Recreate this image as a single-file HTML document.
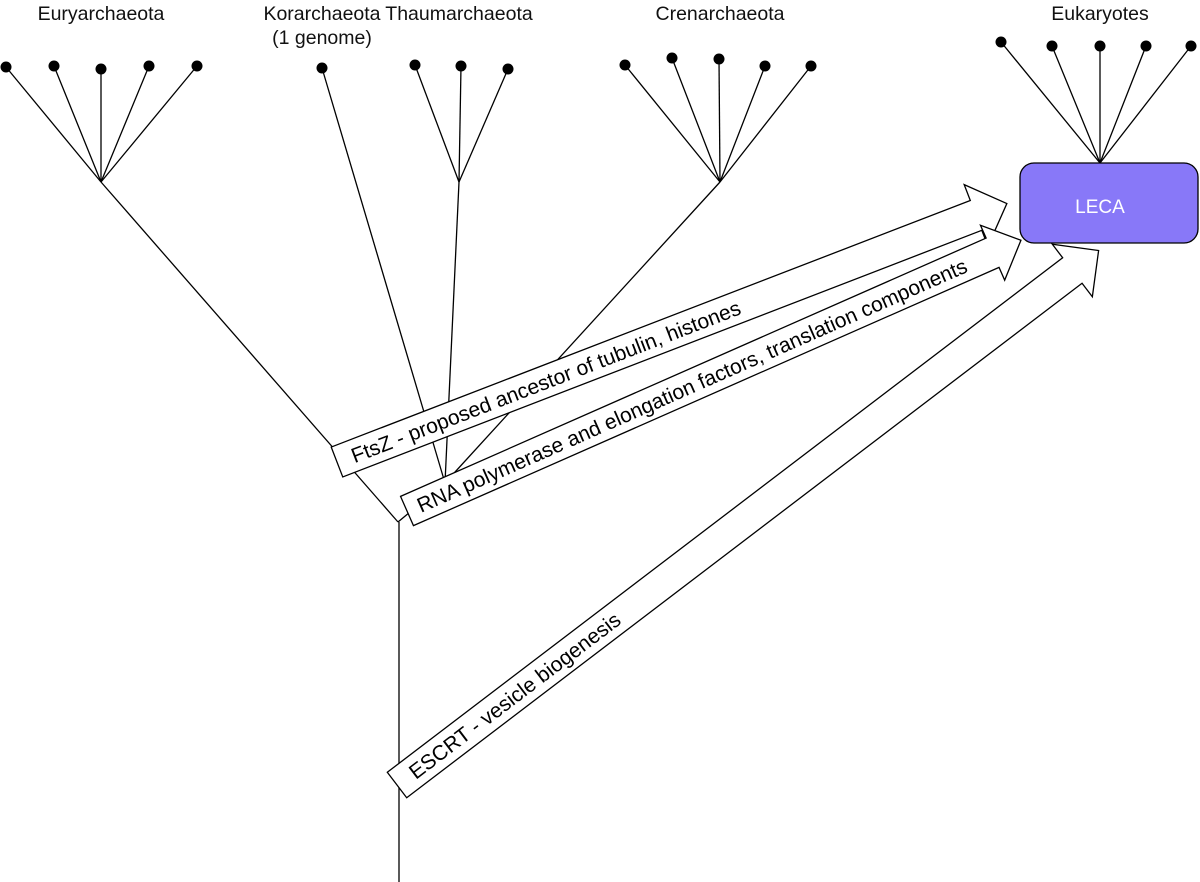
<!DOCTYPE html>
<html><head><style>body{margin:0;background:#fff}svg{display:block}text{font-family:"Liberation Sans",Arial,sans-serif}</style></head>
<body>
<svg width="1200" height="882" viewBox="0 0 1200 882" xmlns="http://www.w3.org/2000/svg">
<g stroke="#000" stroke-width="1.3" fill="none">
<line x1="399" y1="882" x2="399" y2="522"/>
<line x1="398" y1="522" x2="101" y2="182"/>
<line x1="398" y1="522" x2="445" y2="483"/>
<line x1="101" y1="182" x2="6" y2="67"/><line x1="101" y1="182" x2="54" y2="66"/><line x1="101" y1="182" x2="101" y2="69"/><line x1="101" y1="182" x2="149" y2="66"/><line x1="101" y1="182" x2="197" y2="66"/>
<line x1="445" y1="483" x2="322" y2="68"/>
<line x1="445" y1="483" x2="459" y2="182"/>
<line x1="459" y1="182" x2="415" y2="65"/><line x1="459" y1="182" x2="461" y2="66"/><line x1="459" y1="182" x2="508" y2="69"/>
<line x1="445" y1="483" x2="720" y2="182"/>
<line x1="720" y1="182" x2="625" y2="65"/><line x1="720" y1="182" x2="672" y2="58"/><line x1="720" y1="182" x2="719" y2="59"/><line x1="720" y1="182" x2="765" y2="66"/><line x1="720" y1="182" x2="811" y2="66"/>
<line x1="1100" y1="163" x2="1001" y2="42"/><line x1="1100" y1="163" x2="1052" y2="46"/><line x1="1100" y1="163" x2="1100" y2="46"/><line x1="1100" y1="163" x2="1146" y2="46"/><line x1="1100" y1="163" x2="1191" y2="46"/>
</g>
<g fill="#000">
<circle cx="6" cy="67" r="5.5"/><circle cx="54" cy="66" r="5.5"/><circle cx="101" cy="69" r="5.5"/><circle cx="149" cy="66" r="5.5"/><circle cx="197" cy="66" r="5.5"/>
<circle cx="322" cy="68" r="5.5"/>
<circle cx="415" cy="65" r="5.5"/><circle cx="461" cy="66" r="5.5"/><circle cx="508" cy="69" r="5.5"/>
<circle cx="625" cy="65" r="5.5"/><circle cx="672" cy="58" r="5.5"/><circle cx="719" cy="59" r="5.5"/><circle cx="765" cy="66" r="5.5"/><circle cx="811" cy="66" r="5.5"/>
<circle cx="1001" cy="42" r="5.5"/><circle cx="1052" cy="46" r="5.5"/><circle cx="1100" cy="46" r="5.5"/><circle cx="1146" cy="46" r="5.5"/><circle cx="1191" cy="46" r="5.5"/>
</g>
<g font-size="19.5" text-anchor="middle" fill="#111">
<text x="101" y="20">Euryarchaeota</text>
<text x="322" y="20">Korarchaeota</text>
<text x="322" y="44">(1 genome)</text>
<text x="459" y="20">Thaumarchaeota</text>
<text x="720" y="20">Crenarchaeota</text>
<text x="1100" y="20">Eukaryotes</text>
</g>
<g stroke="#000" stroke-width="1.3" fill="#fff">
<g transform="translate(337,462) rotate(-21.1)">
<polygon points="0,-16 685,-16 685,-33 718,0 685,33 685,16 0,16"/>
<text x="16" y="7.5" font-size="21" fill="#000" stroke="none">FtsZ - proposed ancestor of tubulin, histones</text>
</g>
<g transform="translate(407,511) rotate(-23.8)">
<polygon points="0,-16 640,-16 640,-30 671,0 640,30 640,16 0,16"/>
<text x="12" y="7.5" font-size="21" fill="#000" stroke="none">RNA polymerase and elongation factors, translation components</text>
</g>
<g transform="translate(397,785) rotate(-37.3)">
<polygon points="0,-16 849,-16 849,-33 882,0 849,33 849,16 0,16"/>
<text x="18" y="7.5" font-size="21" fill="#000" stroke="none">ESCRT - vesicle biogenesis</text>
</g>
</g>
<rect x="1020" y="163" width="178" height="80" rx="14" fill="#8878f8" stroke="#000" stroke-width="1.3"/>
<text x="1100" y="213" font-size="19" fill="#fff" text-anchor="middle">LECA</text>
</svg>
</body></html>
